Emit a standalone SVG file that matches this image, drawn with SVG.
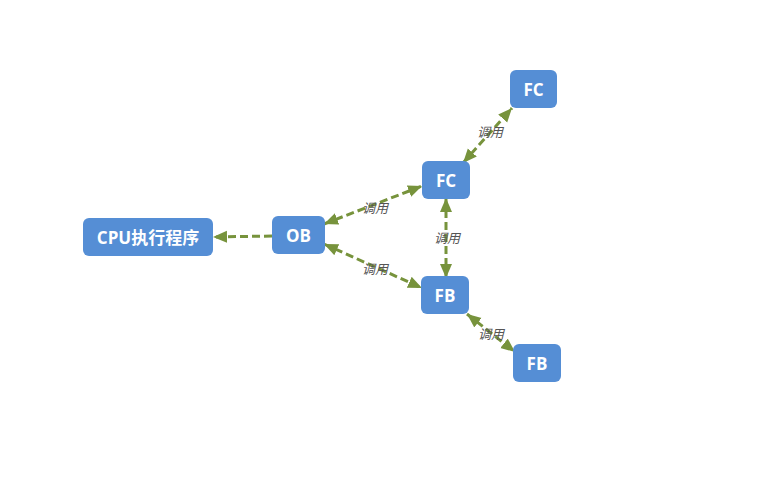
<svg xmlns="http://www.w3.org/2000/svg" width="782" height="496" viewBox="0 0 782 496">
<style>
.node rect{fill:#558ED5;}
.node text{fill:#fff;font-family:"Open Sans","Noto Sans CJK SC",sans-serif;font-weight:bold;font-size:17px;text-anchor:middle;dominant-baseline:central;}
.edge{stroke:#77933C;stroke-width:3;stroke-dasharray:8,4;fill:none;}
.lbl{fill:#555;font-family:"Noto Sans CJK SC",sans-serif;font-style:italic;font-size:13px;text-anchor:middle;dominant-baseline:central;}
</style>
<defs>
<marker id="ah" markerUnits="userSpaceOnUse" markerWidth="15" markerHeight="13" refX="14" refY="6" orient="auto-start-reverse" viewBox="0 0 15 13">
<path d="M0,0 L14,6 L0,12 z" fill="#77933C"/>
</marker>
</defs>
<rect width="782" height="496" fill="#fff"/>
<g id="connectors">
<line class="edge" x1="272" y1="236" x2="213" y2="237" marker-end="url(#ah)"/>
<line class="edge" x1="324" y1="224" x2="422" y2="186" marker-start="url(#ah)" marker-end="url(#ah)"/>
<line class="edge" x1="324" y1="244" x2="422" y2="288" marker-start="url(#ah)" marker-end="url(#ah)"/>
<line class="edge" x1="446" y1="198" x2="446" y2="278" marker-start="url(#ah)" marker-end="url(#ah)"/>
<line class="edge" x1="463" y1="163" x2="512" y2="108" marker-start="url(#ah)" marker-end="url(#ah)"/>
<line class="edge" x1="467" y1="314" x2="515" y2="352" marker-start="url(#ah)" marker-end="url(#ah)"/>
<text class="lbl" x="375" y="207">调用</text>
<text class="lbl" x="375" y="268">调用</text>
<text class="lbl" x="447" y="237">调用</text>
<text class="lbl" x="490" y="131">调用</text>
<text class="lbl" x="491" y="333">调用</text>
</g>
<g id="cpu" class="node"><rect x="83" y="218" width="130" height="38" rx="6"/><text x="148" y="237">CPU执行程序</text></g>
<g id="ob" class="node"><rect x="272" y="216" width="53" height="38" rx="6"/><text x="298.5" y="235">OB</text></g>
<g id="fc1" class="node"><rect x="422" y="161" width="48" height="38" rx="6"/><text x="446" y="180">FC</text></g>
<g id="fc2" class="node"><rect x="510" y="70" width="47" height="38" rx="6"/><text x="533.5" y="89">FC</text></g>
<g id="fb1" class="node"><rect x="421" y="276" width="48" height="38" rx="6"/><text x="445" y="295">FB</text></g>
<g id="fb2" class="node"><rect x="513" y="344" width="48" height="38" rx="6"/><text x="537" y="363">FB</text></g>
</svg>
